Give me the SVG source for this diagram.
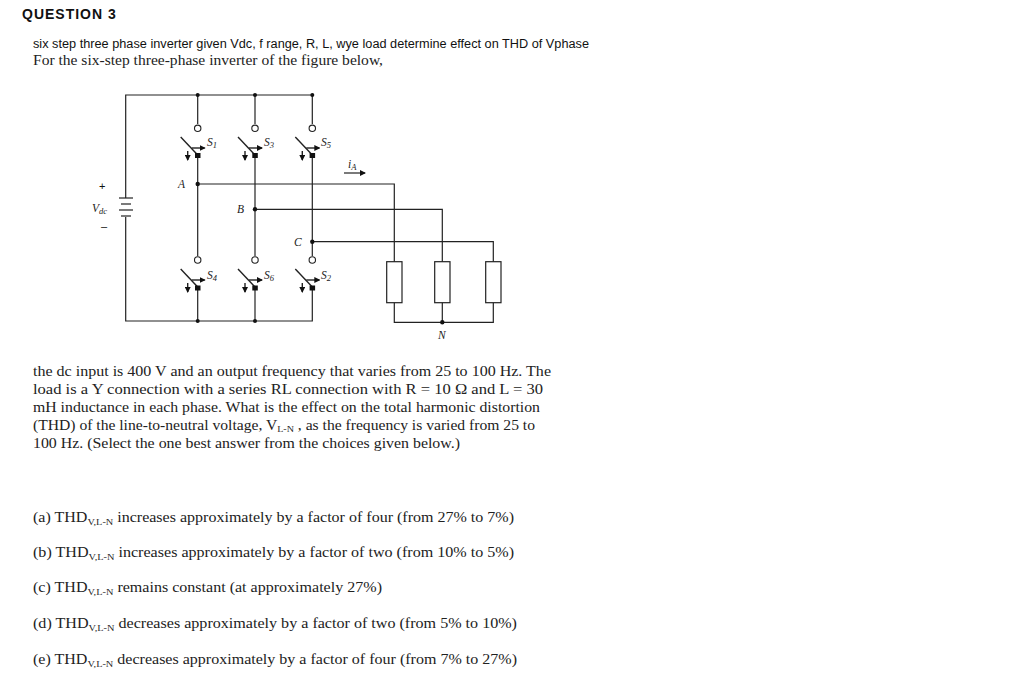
<svg xmlns="http://www.w3.org/2000/svg" width="1024" height="678" viewBox="0 0 1024 678">
<style>
.w{stroke:#222;stroke-width:1.2;fill:none}
.sw{stroke:#222;stroke-width:1.4;fill:none}
.oc{fill:#fff;stroke:#222;stroke-width:1.1}
.d{fill:#111}
.sans{font-family:"Liberation Sans",Arial,sans-serif;fill:#111}
.ser{font-family:"Liberation Serif","Times New Roman",serif;fill:#222;font-size:14px}
.lab{font-family:"Liberation Serif",serif;font-style:italic;font-size:11.5px;fill:#222}
</style>
<defs>
<marker id="ah" markerWidth="6" markerHeight="6" refX="5" refY="3" orient="auto" markerUnits="userSpaceOnUse"><path d="M0,0L6,3L0,6z" fill="#111"/></marker>
<g id="sw">
<line class="sw" x1="-17" y1="-8" x2="0" y2="10"/>
<line class="sw" x1="-6" y1="3" x2="7" y2="3" marker-end="url(#ah)"/>
<line class="sw" x1="-10" y1="6" x2="-10" y2="15" marker-end="url(#ah)"/>
</g>
</defs>
<rect width="1024" height="678" fill="#fff"/>
<text class="sans" x="22" y="19" font-size="14" font-weight="bold" letter-spacing="1">QUESTION 3</text>
<text class="sans" x="33" y="48" font-size="12" textLength="556" lengthAdjust="spacingAndGlyphs">six step three phase inverter given Vdc, f range, R, L, wye load determine effect on THD of Vphase</text>
<text class="ser" x="33" y="65" textLength="350" lengthAdjust="spacingAndGlyphs">For the six-step three-phase inverter of the figure below,</text>

<g id="connectors">
<polyline class="w" points="125.7,198 125.7,95 312.3,95 312.3,124"/>
<line class="w" x1="197.7" y1="95" x2="197.7" y2="124"/>
<line class="w" x1="255" y1="95" x2="255" y2="124"/>
<polyline class="w" points="125.7,217 125.7,321 312.3,321 312.3,288"/>
<line class="w" x1="197.7" y1="321" x2="197.7" y2="288"/>
<line class="w" x1="255" y1="321" x2="255" y2="288"/>
<line class="w" x1="197.7" y1="156" x2="197.7" y2="256"/>
<line class="w" x1="255" y1="156" x2="255" y2="256"/>
<line class="w" x1="312.3" y1="156" x2="312.3" y2="256"/>
<polyline class="w" points="197.7,184 394.3,184 394.3,261.7"/>
<polyline class="w" points="255,209.3 442.3,209.3 442.3,261.7"/>
<polyline class="w" points="312.3,241.7 493.3,241.7 493.3,261.7"/>
<polyline class="w" points="394.3,302.7 394.3,322.3 493.3,322.3 493.3,302.7"/>
<line class="w" x1="442.3" y1="302.7" x2="442.3" y2="322.3"/>
<line class="w" x1="344" y1="173" x2="365" y2="173" marker-end="url(#ah)"/>
</g>
<g id="battery">
<line class="w" x1="119" y1="198" x2="133" y2="198"/>
<line class="w" x1="121" y1="204" x2="131" y2="204"/>
<line class="w" x1="119" y1="210" x2="133" y2="210"/>
<line class="w" x1="121" y1="216" x2="131" y2="216"/>
<text class="sans" x="99" y="190" font-size="11">+</text>
<text class="lab" x="92" y="212">V<tspan font-size="8.5" dy="2">dc</tspan></text>
<text class="sans" x="101" y="230" font-size="11">–</text>
</g>
<g id="nodes-dots">
<circle class="d" cx="197.7" cy="95" r="2"/><circle class="d" cx="255" cy="95" r="2"/><circle class="d" cx="312.3" cy="95" r="2"/>
<circle class="d" cx="197.7" cy="321" r="2"/><circle class="d" cx="255" cy="321" r="2"/>
<circle class="d" cx="197.7" cy="184" r="2.2"/><circle class="d" cx="255" cy="209.3" r="2.2"/><circle class="d" cx="312.3" cy="241.7" r="2.2"/>
<circle class="d" cx="442.3" cy="322.3" r="2.2"/>
</g>
<g id="S1"><use href="#sw" x="197.7" y="145"/><circle class="oc" cx="197.7" cy="128.3" r="3.2"/><rect class="d" x="195" y="153" width="5.5" height="5"/><text class="lab" x="207" y="146">S<tspan font-size="8.5" dy="2">1</tspan></text></g>
<g id="S3"><use href="#sw" x="255" y="145"/><circle class="oc" cx="255" cy="128.3" r="3.2"/><rect class="d" x="252.3" y="153" width="5.5" height="5"/><text class="lab" x="264" y="146">S<tspan font-size="8.5" dy="2">3</tspan></text></g>
<g id="S5"><use href="#sw" x="312.3" y="145"/><circle class="oc" cx="312.3" cy="128.3" r="3.2"/><rect class="d" x="309.6" y="153" width="5.5" height="5"/><text class="lab" x="321" y="146">S<tspan font-size="8.5" dy="2">5</tspan></text></g>
<g id="S4"><use href="#sw" x="197.7" y="277"/><circle class="oc" cx="197.7" cy="260" r="3.2"/><rect class="d" x="195" y="285.5" width="5.5" height="5"/><text class="lab" x="207" y="279">S<tspan font-size="8.5" dy="2">4</tspan></text></g>
<g id="S6"><use href="#sw" x="255" y="277"/><circle class="oc" cx="255" cy="260" r="3.2"/><rect class="d" x="252.3" y="285.5" width="5.5" height="5"/><text class="lab" x="264" y="279">S<tspan font-size="8.5" dy="2">6</tspan></text></g>
<g id="S2"><use href="#sw" x="312.3" y="277"/><circle class="oc" cx="312.3" cy="260" r="3.2"/><rect class="d" x="309.6" y="285.5" width="5.5" height="5"/><text class="lab" x="321" y="279">S<tspan font-size="8.5" dy="2">2</tspan></text></g>
<g id="labels">
<text class="lab" x="178" y="188">A</text>
<text class="lab" x="237" y="213">B</text>
<text class="lab" x="294" y="246">C</text>
<text class="lab" x="348" y="168">i<tspan font-size="8.5" dy="2">A</tspan></text>
<text class="lab" x="438" y="339">N</text>
</g>
<g id="loads">
<rect class="w" x="386.7" y="261.7" width="15.3" height="41"/>
<rect class="w" x="434.7" y="261.7" width="15.3" height="41"/>
<rect class="w" x="485.7" y="261.7" width="15.3" height="41"/>
</g>

<text class="ser" x="33" y="376" textLength="518" lengthAdjust="spacingAndGlyphs">the dc input is  400 V  and an output frequency that varies from 25 to 100 Hz.  The</text>
<text class="ser" x="33" y="394" textLength="510" lengthAdjust="spacingAndGlyphs">load is a Y connection with a series RL connection with  R = 10 Ω  and  L = 30</text>
<text class="ser" x="33" y="412" textLength="507" lengthAdjust="spacingAndGlyphs">mH inductance in each phase.  What is the effect on the total harmonic distortion</text>
<text class="ser" x="33" y="430" textLength="502" lengthAdjust="spacingAndGlyphs">(THD) of the line-to-neutral voltage, V<tspan font-size="9" dy="2">L-N</tspan><tspan dy="-2"> , as the frequency is varied from 25 to</tspan></text>
<text class="ser" x="33" y="448" textLength="427" lengthAdjust="spacingAndGlyphs">100 Hz.  (Select the one best answer from the choices given below.)</text>

<text class="ser" x="33" y="522" textLength="481" lengthAdjust="spacingAndGlyphs">(a)  THD<tspan font-size="9" dy="3">V,L-N</tspan><tspan dy="-3">  increases approximately by a factor of four (from 27% to 7%)</tspan></text>
<text class="ser" x="33" y="557" textLength="481" lengthAdjust="spacingAndGlyphs">(b)  THD<tspan font-size="9" dy="3">V,L-N</tspan><tspan dy="-3">  increases approximately by a factor of two  (from 10% to 5%)</tspan></text>
<text class="ser" x="33" y="592" textLength="349" lengthAdjust="spacingAndGlyphs">(c)  THD<tspan font-size="9" dy="3">V,L-N</tspan><tspan dy="-3">  remains constant (at approximately 27%)</tspan></text>
<text class="ser" x="33" y="628" textLength="484" lengthAdjust="spacingAndGlyphs">(d)  THD<tspan font-size="9" dy="3">V,L-N</tspan><tspan dy="-3">  decreases approximately by a factor of two (from 5% to 10%)</tspan></text>
<text class="ser" x="33" y="664" textLength="484" lengthAdjust="spacingAndGlyphs">(e)  THD<tspan font-size="9" dy="3">V,L-N</tspan><tspan dy="-3">  decreases approximately by a factor of four (from 7% to 27%)</tspan></text>
</svg>
